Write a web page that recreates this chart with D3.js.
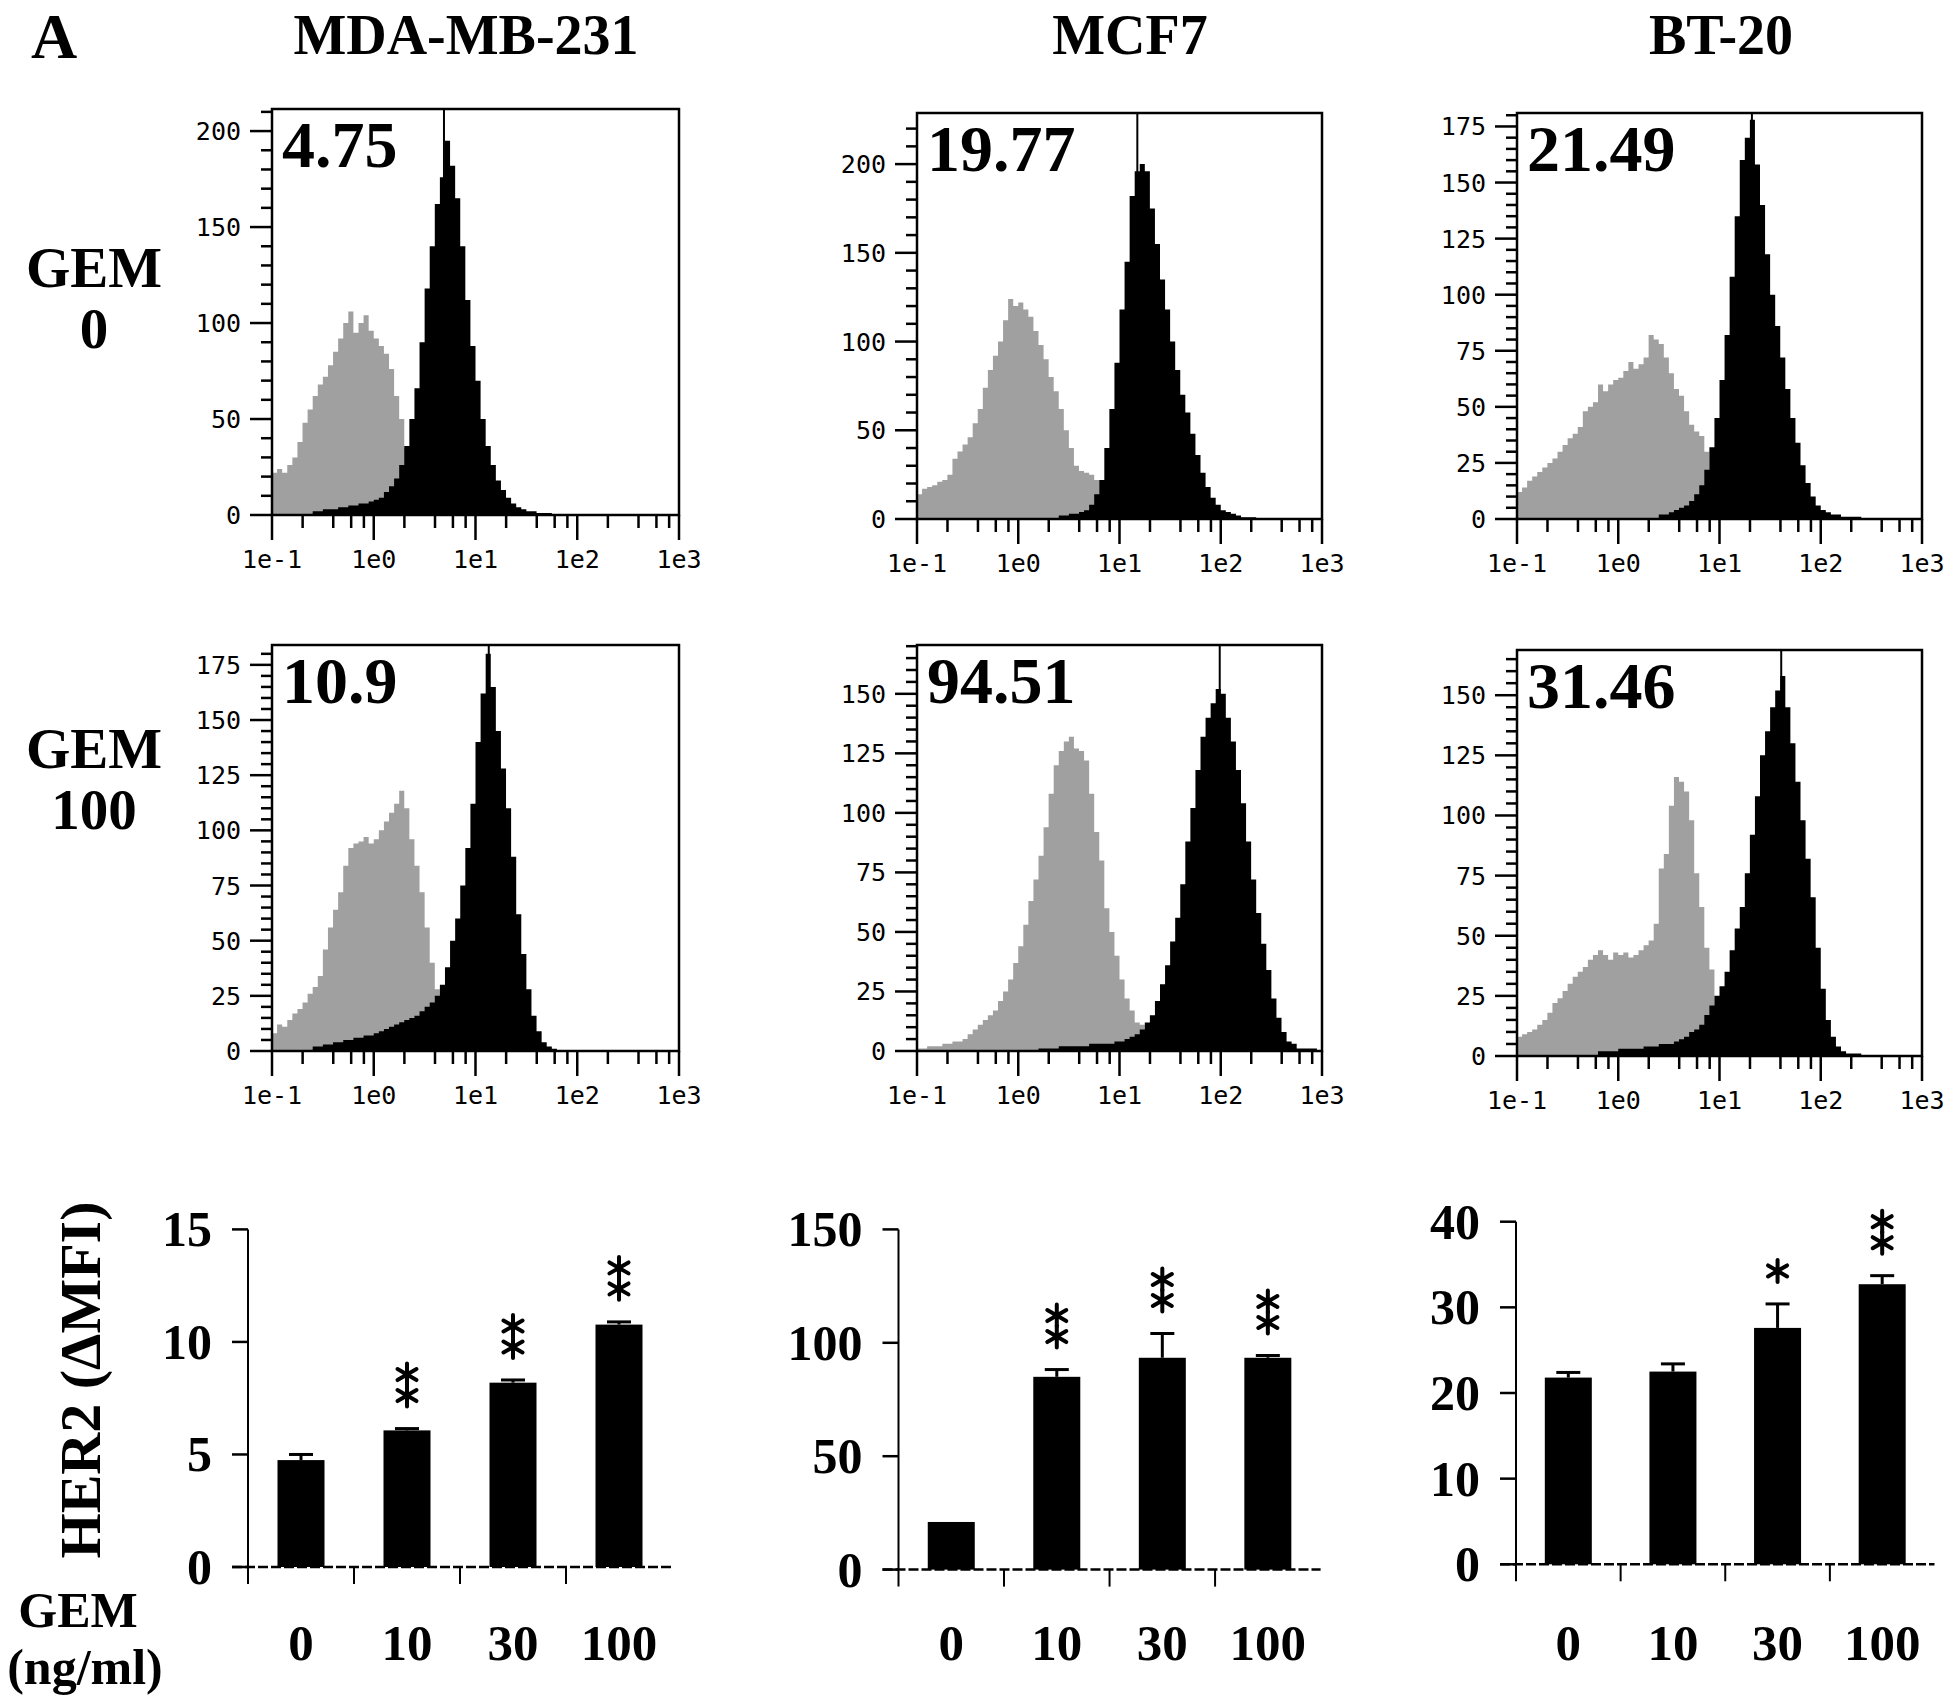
<!DOCTYPE html>
<html>
<head>
<meta charset="utf-8">
<script src="https://cdnjs.cloudflare.com/ajax/libs/d3/7.8.5/d3.min.js"></script>
<style>
  body { margin: 0; background: #fff; }
  svg { display: block; }
</style>
</head>
<body>
<svg id="fig"></svg>
<script>
const width = 1957;
const height = 1703;

/* ---------------------------
Data
--------------------------- */

const cellLines = ["MDA-MB-231", "MCF7", "BT-20"];
const gemRows = ["0", "100"];
const doses = ["0", "10", "30", "100"];

// delta MFI printed in each histogram, [cell][row]
const mfiText = [["4.75", "10.9"], ["19.77", "94.51"], ["21.49", "31.46"]];

// histogram bin width, in decades (log10)
const BIN = 0.05;

// control (grey) and HER2 (black) histograms, counts per bin
const mda0CtrlStart = -1.0;
const mda0Ctrl = [22,24,22,26,30,38,48,55,62,68,72,78,85,92,100,106,95,100,104,96,92,88,84,76,62,50,35,18,8,4,2];
const mda0HerStart = -0.6;
const mda0Her = [2,2,3,3,3,4,4,5,5,6,6,7,8,9,12,15,19,26,36,50,66,90,118,140,162,176,195,182,165,140,112,88,70,50,36,26,18,13,9,6,4,3,2,2,1,1,1];

const mda100CtrlStart = -1.0;
const mda100Ctrl = [8,12,11,14,17,19,22,26,29,34,46,56,64,72,84,92,94,95,97,94,96,100,104,108,112,118,110,96,84,72,56,40,28,15];
const mda100HerStart = -0.6;
const mda100Her = [2,2,3,3,4,4,5,5,6,6,7,7,8,9,10,11,12,13,14,15,16,18,20,22,25,30,38,50,60,75,92,112,140,162,180,165,145,128,110,88,62,44,28,16,9,4,2,1];

const mcf0CtrlStart = -1.0;
const mcf0Ctrl = [14,17,18,19,21,22,25,34,38,42,46,54,62,74,84,92,100,112,124,120,122,118,114,106,98,90,80,72,62,50,40,30,27,26,25,22,8,3];
const mcf0HerStart = 0.4;
const mcf0Her = [2,2,3,3,4,5,8,14,22,40,62,88,118,145,182,196,200,196,175,155,135,118,100,84,70,60,48,36,26,18,12,8,5,4,3,2,1,1,1];

const mcf100CtrlStart = -1.0;
const mcf100Ctrl = [1,1,2,2,2,3,3,4,4,5,7,9,11,13,15,17,21,25,30,37,44,53,63,72,82,94,108,120,126,130,132,127,126,122,108,92,80,60,50,40,30,22,17,12,11,6,3,1];
const mcf100HerStart = 0.2;
const mcf100Her = [1,1,1,1,2,2,2,2,2,2,3,3,3,3,3,4,4,5,6,7,9,12,15,21,28,36,46,56,70,88,102,118,132,140,146,152,150,140,130,118,104,88,72,58,45,34,22,14,8,4,3,1,1,1,1];

const bt0CtrlStart = -1.0;
const bt0Ctrl = [12,14,17,19,21,23,25,27,30,33,36,38,41,48,50,52,60,57,60,62,63,66,70,67,69,72,82,80,78,72,65,58,55,48,42,39,37,30,10];
const bt0HerStart = 0.4;
const bt0Her = [2,2,3,4,5,6,8,11,15,22,32,45,62,82,108,135,160,170,178,158,140,118,100,86,72,58,45,34,24,16,10,6,4,3,2,2,1,1,1,1];

const bt100CtrlStart = -1.0;
const bt100Ctrl = [8,9,10,11,13,15,18,22,24,27,30,33,35,37,40,42,44,42,40,43,42,43,41,42,44,46,48,55,78,84,104,116,114,110,98,76,62,45,36,20];
const bt100HerStart = -0.2;
const bt100Her = [2,2,2,2,3,3,3,3,3,4,4,4,5,5,5,6,7,8,10,11,13,17,21,25,29,35,44,53,62,76,92,108,125,135,145,152,158,145,130,114,98,82,66,45,28,15,8,4,2,1,1,1];

// position of the peak marker line (fluorescence), [cell][row]
const peakMarker = [[4.9, 13.5], [15.0, 97.7], [20.9, 40.7]];

// y axis top of each histogram, [cell][row]
const histYMax = [[211.5, 184], [228.8, 170.5], [181, 168.8]];
const histYMajor = [[50, 25], [50, 25], [25, 25]];
const histYMinor = [[10, 5], [10, 5], [5, 5]];

const xTickLabels = ["1e-1", "1e0", "1e1", "1e2", "1e3"];

// bar charts: HER2 delta MFI by GEM dose
const mdaMfi = [4.75, 6.07, 8.19, 10.77];
const mdaErr = [0.25, 0.08, 0.12, 0.12];
const mdaSig = [0, 2, 2, 2];   // number of asterisks

const mcfMfi = [21, 85.0, 93.4, 93.4];
const mcfErr = [0, 3.2, 10.7, 1.0];
const mcfSig = [0, 2, 2, 2];

const btMfi = [21.8, 22.5, 27.6, 32.7];
const btErr = [0.6, 0.9, 2.8, 1.0];
const btSig = [0, 0, 1, 2];

const barMax = [15, 150, 40];
const barStep = [5, 50, 10];

const histData = [
  [
    { ctrl: [mda0CtrlStart, mda0Ctrl], her: [mda0HerStart, mda0Her] },
    { ctrl: [mda100CtrlStart, mda100Ctrl], her: [mda100HerStart, mda100Her] }
  ],
  [
    { ctrl: [mcf0CtrlStart, mcf0Ctrl], her: [mcf0HerStart, mcf0Her] },
    { ctrl: [mcf100CtrlStart, mcf100Ctrl], her: [mcf100HerStart, mcf100Her] }
  ],
  [
    { ctrl: [bt0CtrlStart, bt0Ctrl], her: [bt0HerStart, bt0Her] },
    { ctrl: [bt100CtrlStart, bt100Ctrl], her: [bt100HerStart, bt100Her] }
  ]
];

const barData = [
  { mfi: mdaMfi, err: mdaErr, sig: mdaSig },
  { mfi: mcfMfi, err: mcfErr, sig: mcfSig },
  { mfi: btMfi, err: btErr, sig: btSig }
];

/* ---------------------------
Layout
--------------------------- */

const serif = "'Liberation Serif', 'Times New Roman', serif";
const mono = "'DejaVu Sans Mono', monospace";

const panelX = [272, 917, 1517];
const panelW = [407, 405, 405];
const panelY = [[109, 645], [113, 645], [113, 650]];
const panelH = 406;

const barAxisX = [248, 898.5, 1516];
const barRight = [672, 1320.6, 1934.5];
const barTopY = [1229.4, 1229.4, 1221.7];
const barZeroY = [1567, 1569.6, 1564.3];

const svg = d3.select("#fig")
  .attr("width", width)
  .attr("height", height)
  .style("font-family", serif);

svg.append("rect").attr("width", width).attr("height", height).attr("fill", "#fff");

/* ---------------------------
Titles and row labels
--------------------------- */

svg.append("text")
  .attr("x", 31).attr("y", 58)
  .attr("font-size", 64).attr("font-weight", "bold")
  .text("A");

const titleX = [466, 1130, 1721];
cellLines.forEach((name, i) => {
  svg.append("text")
    .attr("x", titleX[i]).attr("y", 54)
    .attr("text-anchor", "middle")
    .attr("font-size", 56).attr("font-weight", "bold")
    .text(name);
});

const rowLabelY = [[287, 348], [768, 829]];
gemRows.forEach((g, r) => {
  svg.append("text")
    .attr("x", 94).attr("y", rowLabelY[r][0])
    .attr("text-anchor", "middle")
    .attr("font-size", 57).attr("font-weight", "bold")
    .text("GEM");
  svg.append("text")
    .attr("x", 94).attr("y", rowLabelY[r][1])
    .attr("text-anchor", "middle")
    .attr("font-size", 57).attr("font-weight", "bold")
    .text(g);
});

/* ---------------------------
Histograms
--------------------------- */

function histPoints(start, counts) {
  const pts = counts.map((c, i) => ({ lg: start + i * BIN, c: c }));
  pts.push({ lg: start + counts.length * BIN, c: counts[counts.length - 1] });
  return pts;
}

function drawHistogram(ci, ri) {
  const x0 = panelX[ci];
  const y0 = panelY[ci][ri];
  const w = panelW[ci];
  const h = panelH;
  const ymax = histYMax[ci][ri];

  const x = d3.scaleLog().domain([0.1, 1000]).range([x0, x0 + w]);
  const y = d3.scaleLinear().domain([0, ymax]).range([y0 + h, y0]);

  const g = svg.append("g");

  const area = d3.area()
    .curve(d3.curveStepAfter)
    .x(d => x(Math.pow(10, d.lg)))
    .y0(y(0))
    .y1(d => y(d.c));

  const hd = histData[ci][ri];

  g.append("path")
    .datum(histPoints(hd.ctrl[0], hd.ctrl[1]))
    .attr("d", area)
    .attr("fill", "#a0a0a0");

  g.append("path")
    .datum(histPoints(hd.her[0], hd.her[1]))
    .attr("d", area)
    .attr("fill", "#000");

  // peak marker
  g.append("line")
    .attr("x1", x(peakMarker[ci][ri])).attr("x2", x(peakMarker[ci][ri]))
    .attr("y1", y0).attr("y2", y0 + h)
    .attr("stroke", "#000").attr("stroke-width", 2);

  // frame
  g.append("rect")
    .attr("x", x0).attr("y", y0)
    .attr("width", w).attr("height", h)
    .attr("fill", "none")
    .attr("stroke", "#000").attr("stroke-width", 2.5);

  // y ticks
  const major = histYMajor[ci][ri];
  const minor = histYMinor[ci][ri];
  const yt = d3.range(0, ymax + 0.001, minor);
  g.selectAll(".yt")
    .data(yt)
    .enter()
    .append("line")
    .attr("x1", d => x0 - (d % major === 0 ? 22 : 11))
    .attr("x2", x0)
    .attr("y1", d => y(d)).attr("y2", d => y(d))
    .attr("stroke", "#000").attr("stroke-width", 2.5);

  g.selectAll(".yl")
    .data(d3.range(0, ymax + 0.001, major))
    .enter()
    .append("text")
    .attr("x", x0 - 31)
    .attr("y", d => y(d) + 9)
    .attr("text-anchor", "end")
    .attr("font-family", mono)
    .attr("font-size", 25)
    .text(d => d);

  // x ticks: decades and 2,4,6,8 minors
  const decades = [0.1, 1, 10, 100, 1000];
  const minors = [];
  decades.slice(0, 4).forEach(dd => [2, 4, 6, 8].forEach(m => minors.push(dd * m)));

  g.selectAll(".xmin")
    .data(minors)
    .enter()
    .append("line")
    .attr("x1", d => x(d)).attr("x2", d => x(d))
    .attr("y1", y0 + h).attr("y2", y0 + h + 13)
    .attr("stroke", "#000").attr("stroke-width", 2.5);

  g.selectAll(".xmaj")
    .data(decades)
    .enter()
    .append("line")
    .attr("x1", d => x(d)).attr("x2", d => x(d))
    .attr("y1", y0 + h).attr("y2", y0 + h + 25)
    .attr("stroke", "#000").attr("stroke-width", 2.5);

  g.selectAll(".xl")
    .data(decades)
    .enter()
    .append("text")
    .attr("x", d => x(d))
    .attr("y", y0 + h + 53)
    .attr("text-anchor", "middle")
    .attr("font-family", mono)
    .attr("font-size", 25)
    .text((d, i) => xTickLabels[i]);

  // MFI value
  g.append("text")
    .attr("x", x0 + 10)
    .attr("y", y0 + 58)
    .attr("font-size", 66).attr("font-weight", "bold")
    .text(mfiText[ci][ri]);
}

cellLines.forEach((c, ci) => {
  gemRows.forEach((r, ri) => drawHistogram(ci, ri));
});

/* ---------------------------
Bar charts
--------------------------- */

const star = d3.symbol().type(d3.symbolAsterisk).size(340);

function drawBars(ci) {
  const ax = barAxisX[ci];
  const zeroY = barZeroY[ci];
  const bd = barData[ci];

  const xb = d3.scaleBand().domain(doses).range([ax, barRight[ci]]);
  const yb = d3.scaleLinear().domain([0, barMax[ci]]).range([zeroY, barTopY[ci]]);
  const barW = 47;

  const g = svg.append("g");

  g.selectAll(".bar")
    .data(doses)
    .enter()
    .append("rect")
    .attr("x", d => xb(d) + xb.bandwidth() / 2 - barW / 2)
    .attr("y", (d, i) => yb(bd.mfi[i]))
    .attr("width", barW)
    .attr("height", (d, i) => zeroY - yb(bd.mfi[i]))
    .attr("fill", "#000");

  // error bars
  doses.forEach((d, i) => {
    if (!bd.err[i]) return;
    const cx = xb(d) + xb.bandwidth() / 2;
    const top = yb(bd.mfi[i] + bd.err[i]);
    g.append("line")
      .attr("x1", cx).attr("x2", cx)
      .attr("y1", yb(bd.mfi[i])).attr("y2", top)
      .attr("stroke", "#000").attr("stroke-width", 3);
    g.append("line")
      .attr("x1", cx - 12).attr("x2", cx + 12)
      .attr("y1", top).attr("y2", top)
      .attr("stroke", "#000").attr("stroke-width", 3);
  });

  // significance marks, asterisks stacked vertically
  doses.forEach((d, i) => {
    const cx = xb(d) + xb.bandwidth() / 2;
    const bottom = yb(bd.mfi[i] + bd.err[i]) - 22;
    for (let k = 0; k < bd.sig[i]; k++) {
      g.append("path")
        .attr("d", star)
        .attr("transform", `translate(${cx},${bottom - 11 - k * 21})`)
        .attr("fill", "none")
        .attr("stroke", "#000")
        .attr("stroke-width", 4)
        .attr("stroke-linecap", "round");
    }
  });

  // y axis
  g.append("line")
    .attr("x1", ax).attr("x2", ax)
    .attr("y1", barTopY[ci]).attr("y2", zeroY + 17)
    .attr("stroke", "#000").attr("stroke-width", 2);

  const ticks = d3.range(0, barMax[ci] + 0.001, barStep[ci]);
  g.selectAll(".ytick")
    .data(ticks)
    .enter()
    .append("line")
    .attr("x1", ax - 16).attr("x2", ax)
    .attr("y1", d => yb(d)).attr("y2", d => yb(d))
    .attr("stroke", "#000").attr("stroke-width", 2.5);

  g.selectAll(".ylab")
    .data(ticks)
    .enter()
    .append("text")
    .attr("x", ax - 36)
    .attr("y", d => yb(d) + 17)
    .attr("text-anchor", "end")
    .attr("font-size", 50).attr("font-weight", "bold")
    .text(d => d);

  // baseline
  g.append("line")
    .attr("x1", ax - 16).attr("x2", barRight[ci])
    .attr("y1", zeroY).attr("y2", zeroY)
    .attr("stroke", "#000").attr("stroke-width", 2.5)
    .attr("stroke-dasharray", "10,3");

  g.selectAll(".xtick")
    .data(doses.slice(1))
    .enter()
    .append("line")
    .attr("x1", d => xb(d)).attr("x2", d => xb(d))
    .attr("y1", zeroY).attr("y2", zeroY + 17)
    .attr("stroke", "#000").attr("stroke-width", 2);

  g.selectAll(".xlab")
    .data(doses)
    .enter()
    .append("text")
    .attr("x", d => xb(d) + xb.bandwidth() / 2)
    .attr("y", 1660)
    .attr("text-anchor", "middle")
    .attr("font-size", 51).attr("font-weight", "bold")
    .text(d => d);
}

cellLines.forEach((c, ci) => drawBars(ci));

// bar chart axis titles
svg.append("text")
  .attr("transform", "translate(100,1380) rotate(-90)")
  .attr("text-anchor", "middle")
  .attr("font-size", 58).attr("font-weight", "bold")
  .text("HER2 (\u0394MFI)");

svg.append("text")
  .attr("x", 78).attr("y", 1627)
  .attr("text-anchor", "middle")
  .attr("font-size", 50).attr("font-weight", "bold")
  .text("GEM");

svg.append("text")
  .attr("x", 85).attr("y", 1684)
  .attr("text-anchor", "middle")
  .attr("font-size", 50).attr("font-weight", "bold")
  .text("(ng/ml)");
</script>
</body>
</html>
